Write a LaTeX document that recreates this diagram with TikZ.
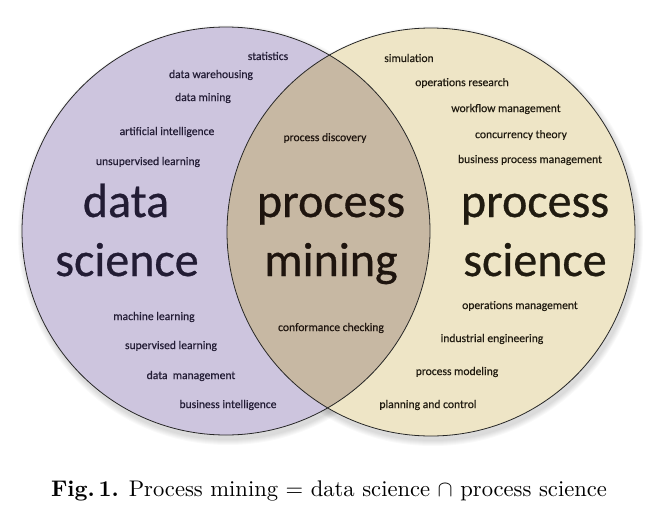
\documentclass[tikz,border=0pt]{standalone}
\usepackage{fontspec}
\newfontfamily\calib[FakeBold=0.35]{Carlito}
\newfontfamily\calibbig[FakeBold=0.6]{Carlito}
\definecolor{leftc}{RGB}{205,197,222}
\definecolor{rightc}{RGB}{238,229,198}
\definecolor{midc}{RGB}{199,184,163}
\definecolor{lefttxt}{RGB}{34,28,52}
\definecolor{midtxt}{RGB}{30,20,14}
\definecolor{righttxt}{RGB}{32,27,16}
\begin{document}
\begin{tikzpicture}[x=1pt,y=-1pt,
  small/.style={font=\calib\fontsize{11.6}{14}\selectfont, inner sep=0pt, anchor=center},
  big/.style={font=\calibbig\fontsize{48}{58}\selectfont, inner sep=0pt, anchor=base},
  ltxt/.style={text=lefttxt},
  mtxt/.style={text=midtxt},
  rtxt/.style={text=righttxt},
  outline/.style={draw=black!85, line width=0.8pt}]
\useasboundingbox (0,0) rectangle (669,520);
\fill[white] (0,0) rectangle (669,520);
% soft shadow
\foreach \r in {1,...,6}{
  \fill[black, opacity=0.025] (228,235) circle[radius={(204+\r)*1pt}];
  \fill[black, opacity=0.025] (433,236) circle[radius={(204+\r)*1pt}];
}
% circles
\coordinate (cl) at (226,231);
\coordinate (cr) at (431,232);
\fill[leftc] (cl) circle[radius=204pt];
\fill[rightc] (cr) circle[radius=204pt];
\begin{scope}
  \clip (cl) circle[radius=204pt];
  \fill[midc] (cr) circle[radius=204pt];
\end{scope}
\draw[outline] (cl) circle[radius=204pt];
\draw[outline] (cr) circle[radius=204pt];

% big labels
\node[big, ltxt] (ds1) at (126,217) {data};
\node[big, ltxt] (ds2) at (127,276) {science};
\node[big, mtxt] (pm1) at (331,217) {process};
\node[big, mtxt] (pm2) at (331,276) {mining};
\node[big, rtxt] (ps1) at (535,217) {process};
\node[big, rtxt] (ps2) at (535,276) {science};

% left small labels
\node[small, ltxt] (l1) at (268,56) {statistics};
\node[small, ltxt] (l2) at (211,75) {data warehousing};
\node[small, ltxt] (l3) at (203,98) {data mining};
\node[small, ltxt] (l4) at (167,132) {artificial intelligence};
\node[small, ltxt] (l5) at (148,162) {unsupervised learning};
\node[small, ltxt] (l6) at (154,317) {machine learning};
\node[small, ltxt] (l7) at (171,346) {supervised learning};
\node[small, ltxt] (l8) at (191,376) {data\ \ management};
\node[small, ltxt] (l9) at (228,405) {business intelligence};

% middle small labels
\node[small, mtxt] (m1) at (325,138) {process discovery};
\node[small, mtxt] (m2) at (331,328) {conformance checking};

% right small labels
\node[small, rtxt] (r1) at (409,58) {simulation};
\node[small, rtxt] (r2) at (462,83) {operations research};
\node[small, rtxt] (r3) at (506,109) {workflow management};
\node[small, rtxt] (r4) at (521,135) {concurrency theory};
\node[small, rtxt] (r5) at (530,160) {business process management};
\node[small, rtxt] (r6) at (520,306) {operations management};
\node[small, rtxt] (r7) at (492,339) {industrial engineering};
\node[small, rtxt] (r8) at (457,372) {process modeling};
\node[small, rtxt] (r9) at (428,405) {planning and control};

% caption
\node[inner sep=0pt, anchor=center] (cap) at (329,491)
  {\resizebox{556pt}{!}{\textbf{Fig.\,1.} Process mining $=$ data science $\cap$ process science}};
\end{tikzpicture}
\end{document}
